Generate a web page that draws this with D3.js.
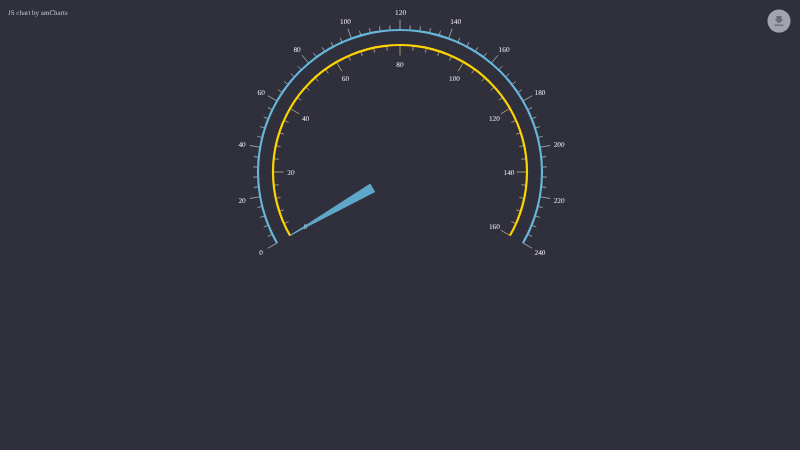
<!DOCTYPE html>
<html><head><meta charset="utf-8">
<script src="https://cdn.jsdelivr.net/npm/d3@7/dist/d3.min.js"></script>
<style>html,body{margin:0;padding:0;background:#2f303b}svg{display:block}text{font-family:"Liberation Serif",serif;text-rendering:geometricPrecision}.soft{filter:blur(0.25px)}</style>
</head><body><svg id="c" width="800" height="450"></svg>
<script>
const outerLabels=[0,20,40,60,80,100,120,140,160,180,200,220,240];
const innerLabels=[0,20,40,60,80,100,120,140,160];
const minorDivisions=5;
const handValue=[0];
const title="JS chart by amCharts";

const W=800,H=450,cx=400,cy=172;
const svg=d3.select("#c");
svg.append("rect").attr("width",W).attr("height",H).attr("fill","#2f303b");
const rad=d=>d*Math.PI/180;
const outerScale=d3.scaleLinear().domain([0,240]).range([150,390]);
const innerScale=d3.scaleLinear().domain([0,160]).range([150,390]);
const pt=(a,r)=>[cx+r*Math.cos(rad(a)),cy+r*Math.sin(rad(a))];

function ticksOf(labels){
  const out=[];
  labels.forEach((v,i)=>{
    out.push({v,major:true});
    if(i<labels.length-1){
      const step=(labels[i+1]-v)/minorDivisions;
      for(let k=1;k<minorDivisions;k++) out.push({v:v+k*step,major:false});
    }
  });
  return out;
}
function axis(scale,labels,r,color,dir,labelRx,labelRy,tickColor,dx){
  const g=svg.append("g");
  g.selectAll("line").data(ticksOf(labels)).join("line")
    .each(function(d){
      const a=scale(d.v),len=d.major?10.5:5,p0=pt(a,r),p1=pt(a,r+dir*len);
      d3.select(this).attr("x1",p0[0]).attr("y1",p0[1]).attr("x2",p1[0]).attr("y2",p1[1]);
    })
    .attr("stroke",tickColor).attr("stroke-opacity",0.62).attr("stroke-width",1);
  const arc=d3.arc().innerRadius(r-1.1).outerRadius(r+1.1)
    .startAngle(rad(scale.range()[0]+90)).endAngle(rad(scale.range()[1]+90));
  g.append("path").attr("transform",`translate(${cx},${cy})`).attr("d",arc()).attr("fill",color);
  g.append("g").attr("class","soft").selectAll("text").data(labels).join("text")
    .attr("x",d=>cx+dx+labelRx*Math.cos(rad(scale(d))))
    .attr("y",d=>cy+labelRy*Math.sin(rad(scale(d)))+0.3)
    .attr("text-anchor","middle").attr("dominant-baseline","central")
    .attr("font-size",7.3).attr("fill","#f2f2f4").text(d=>d);
}
axis(outerScale,outerLabels,142,"#67b7dc",1,161,160,"#cfe3ee",0.6);
axis(innerScale,innerLabels,127,"#fdd400",-1,109,108,"#e8d98a",0);

const a=outerScale(handValue[0]);
const b=pt(a,31.5),t=pt(a,127),n=[Math.cos(rad(a+90)),Math.sin(rad(a+90))];
svg.append("polygon").attr("fill","#67b7dc").attr("fill-opacity",0.88)
  .attr("points",[[b[0]+n[0]*5,b[1]+n[1]*5],[b[0]-n[0]*5,b[1]-n[1]*5],[t[0]-n[0]*.4,t[1]-n[1]*.4],[t[0]+n[0]*.4,t[1]+n[1]*.4]].join(" "));

svg.append("g").attr("class","soft").append("text").attr("x",8).attr("y",14.5).attr("font-size",7).attr("fill","#c4c4c9").text(title);

const btn=svg.append("g").attr("transform","translate(779,21)");
btn.append("circle").attr("r",11.5).attr("fill","#a3a3ad");
btn.append("path").attr("d","M-2.5,-5H2.5V-1.5H4.5L0,2.5L-4.5,-1.5H-2.5Z").attr("fill","#6a6a75");
btn.append("rect").attr("x",-4.5).attr("y",3.5).attr("width",9).attr("height",1.3).attr("fill","#6a6a75");
</script></body></html>
